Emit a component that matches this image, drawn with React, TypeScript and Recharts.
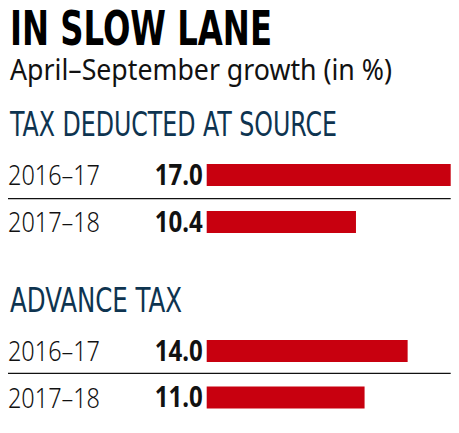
import { Bar, BarChart, LabelList, XAxis, YAxis } from "recharts";

// Apr–Sep growth, in %
const years = ["2016–17", "2017–18"];
const tdsGrowth = [17.0, 10.4];
const advanceTaxGrowth = [14.0, 11.0];
const growthDomain: [number, number] = [0, 17];

const RED = "#c8000f";
const NAVY = "#0e3450";
const NARROW = "'Liberation Sans Narrow', 'DejaVu Sans Condensed', sans-serif";
const SANS = "'Noto Sans', 'Open Sans', sans-serif";

const toRows = (values: number[]) =>
  years.map((year, i) => ({ year, value: values[i] }));

function YearTick({ y, payload }: { y?: number; payload?: { value: string } }) {
  return (
    <text
      x={8}
      y={(y ?? 0) + 10}
      fontFamily={SANS}
      fontWeight={300}
      fontSize={27.5}
      fill="#111"
      textLength={92}
      lengthAdjust="spacingAndGlyphs"
    >
      {payload?.value}
    </text>
  );
}

function ValueLabel(props: any) {
  const { x = 0, y = 0, height = 0, value } = props;
  return (
    <text
      x={Number(x) - 4}
      y={Number(y) + Number(height) / 2 + 10}
      textAnchor="end"
      fontFamily={SANS}
      fontWeight={700}
      fontSize={28}
      fill="#111"
      textLength={48}
      lengthAdjust="spacingAndGlyphs"
    >
      {Number(value).toFixed(1)}
    </text>
  );
}

function GrowthBars({ values, top, height }: { values: number[]; top: number; height: number }) {
  return (
    <div style={{ position: "absolute", left: 0, top }}>
      <BarChart
        width={459}
        height={height}
        data={toRows(values)}
        layout="vertical"
        margin={{ top: 0, right: 8.3, bottom: 0, left: 0 }}
      >
        <XAxis type="number" domain={growthDomain} hide />
        <YAxis
          type="category"
          dataKey="year"
          width={206.7}
          axisLine={false}
          tickLine={false}
          tick={<YearTick />}
          interval={0}
        />
        <Bar dataKey="value" fill={RED} barSize={22} isAnimationActive={false}>
          <LabelList dataKey="value" content={ValueLabel} />
        </Bar>
      </BarChart>
    </div>
  );
}

export default function App() {
  return (
    <div style={{ position: "absolute", left: 0, top: 0, width: 459, height: 433, background: "#fff" }}>
      <svg width={459} height={433} style={{ position: "absolute", left: 0, top: 0 }}>
        <text
          x={10}
          y={45}
          fontFamily={NARROW}
          fontWeight={700}
          fontSize={48}
          fill="#000"
          textLength={262}
          lengthAdjust="spacingAndGlyphs"
        >
          IN SLOW LANE
        </text>
        <text
          x={10}
          y={80}
          fontFamily={SANS}
          fontWeight={400}
          fontSize={29}
          fill="#111"
          textLength={382}
          lengthAdjust="spacingAndGlyphs"
        >
          April–September growth (in %)
        </text>
        <text
          x={10}
          y={136}
          fontFamily={NARROW}
          fontSize={33}
          fill={NAVY}
          textLength={327}
          lengthAdjust="spacingAndGlyphs"
        >
          TAX DEDUCTED AT SOURCE
        </text>
        <text
          x={10}
          y={311.5}
          fontFamily={NARROW}
          fontSize={33}
          fill={NAVY}
          textLength={172}
          lengthAdjust="spacingAndGlyphs"
        >
          ADVANCE TAX
        </text>
        <line x1={8} x2={450.7} y1={198.7} y2={198.7} stroke="#111" strokeWidth={1.3} />
        <line x1={8} x2={450.7} y1={373.3} y2={373.3} stroke="#111" strokeWidth={1.3} />
      </svg>
      <GrowthBars values={tdsGrowth} top={151.4} height={94} />
      <GrowthBars values={advanceTaxGrowth} top={327.6} height={92.8} />
    </div>
  );
}
